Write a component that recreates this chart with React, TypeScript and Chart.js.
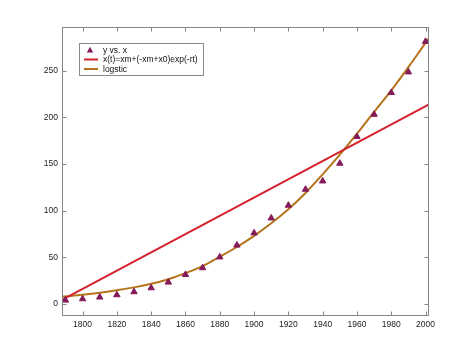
import React, { useEffect, useRef } from "react";
import { Chart, registerables } from "chart.js";

Chart.register(...registerables);

// Census years and observed values (y vs. x)
const years = [1790, 1800, 1810, 1820, 1830, 1840, 1850, 1860, 1870, 1880, 1890, 1900, 1910, 1920, 1930, 1940, 1950, 1960, 1970, 1980, 1990, 2000];
const population = [3.9, 5.3, 7.2, 9.6, 12.9, 17.1, 23.2, 31.4, 38.6, 50.2, 62.9, 76.0, 92.0, 105.7, 122.8, 131.7, 150.7, 179.3, 203.2, 226.5, 248.7, 281.4];

// Straight fitted line endpoints (spanning the axis)
const linearYears = [1788, 2002];
const linearValues = [4.3, 214];

// Logistic curve
const logisticYears = [1788, 1790, 1800, 1810, 1820, 1830, 1840, 1850, 1860, 1870, 1880, 1890, 1900, 1910, 1920, 1930, 1940, 1950, 1960, 1970, 1980, 1990, 2000, 2002];
const logisticValues = [7.7, 8, 9.8, 12, 14.7, 17.7, 21.5, 26.5, 33, 40.5, 50.5, 61, 73, 86.5, 101.5, 119, 139, 160, 182.5, 206, 229, 254, 280, 285];

const xTicks = [1800, 1820, 1840, 1860, 1880, 1900, 1920, 1940, 1960, 1980, 2000];
const yTicks = [0, 50, 100, 150, 200, 250];

const seriesLabels = ["y vs. x", "x(t)=xm+(-xm+x0)exp(-rt)", "logstic"];

const FONT = "'Liberation Sans', Arial, Helvetica, sans-serif";
const AXIS_COLOR = "#858585";
const MARKER_COLOR = "#841a5a";
const RED = "#d4222c";
const BROWN = "#b5731c";

const framePlugin = {
  id: "matlabFrame",
  afterDraw(chart: any) {
    const { ctx, chartArea, scales } = chart;
    const { left, right, top, bottom } = chartArea;
    const xs = scales.x;
    const ys = scales.y;
    ctx.save();
    ctx.strokeStyle = AXIS_COLOR;
    ctx.lineWidth = 1;
    const L = Math.round(left) + 0.5;
    const R = Math.round(right) - 0.5;
    const T = Math.round(top) + 0.5;
    const B = Math.round(bottom) - 0.5;
    ctx.strokeRect(L, T, R - L, B - T);
    const tl = 4;
    ctx.beginPath();
    xTicks.forEach((v) => {
      const px = Math.round(xs.getPixelForValue(v)) + 0.5;
      ctx.moveTo(px, B);
      ctx.lineTo(px, B - tl);
      ctx.moveTo(px, T);
      ctx.lineTo(px, T + tl);
    });
    yTicks.forEach((v) => {
      const py = Math.round(ys.getPixelForValue(v)) + 0.5;
      ctx.moveTo(L, py);
      ctx.lineTo(L + tl, py);
      ctx.moveTo(R, py);
      ctx.lineTo(R - tl, py);
    });
    ctx.stroke();

    // Legend
    const bx = 79.5, by = 43.5, bw = 124, bh = 32;
    ctx.fillStyle = "#ffffff";
    ctx.fillRect(bx, by, bw, bh);
    ctx.strokeStyle = "#8a8a8a";
    ctx.strokeRect(bx, by, bw, bh);
    const rows = [50, 59.5, 69];
    ctx.font = `8.5px ${FONT}`;
    ctx.textBaseline = "middle";
    ctx.textAlign = "left";
    ctx.fillStyle = MARKER_COLOR;
    ctx.beginPath();
    const cx = 90, cy = rows[0];
    ctx.moveTo(cx, cy - 3.2);
    ctx.lineTo(cx + 3.2, cy + 2.4);
    ctx.lineTo(cx - 3.2, cy + 2.4);
    ctx.closePath();
    ctx.fill();
    ctx.lineWidth = 2;
    ctx.strokeStyle = RED;
    ctx.beginPath();
    ctx.moveTo(84, rows[1]);
    ctx.lineTo(98, rows[1]);
    ctx.stroke();
    ctx.strokeStyle = BROWN;
    ctx.beginPath();
    ctx.moveTo(84, rows[2]);
    ctx.lineTo(98, rows[2]);
    ctx.stroke();
    ctx.fillStyle = "#111111";
    seriesLabels.forEach((t, i) => ctx.fillText(t, 103, rows[i] + 0.5));
    ctx.restore();
  },
};

export default function App() {
  const ref = useRef<HTMLCanvasElement | null>(null);
  useEffect(() => {
    document.body.style.margin = "0";
    const canvas = ref.current;
    if (!canvas) return;
    const chart = new Chart(canvas, {
      type: "line",
      data: {
        datasets: [
          {
            label: seriesLabels[0],
            data: years.map((x, i) => ({ x, y: population[i] })),
            showLine: false,
            pointStyle: "triangle",
            pointRadius: 3.7,
            pointBackgroundColor: MARKER_COLOR,
            pointBorderColor: MARKER_COLOR,
            pointBorderWidth: 1,
            borderColor: MARKER_COLOR,
            backgroundColor: MARKER_COLOR,
          },
          {
            label: seriesLabels[1],
            data: linearYears.map((x, i) => ({ x, y: linearValues[i] })),
            borderColor: RED,
            borderWidth: 2,
            pointRadius: 0,
            fill: false,
          },
          {
            label: seriesLabels[2],
            data: logisticYears.map((x, i) => ({ x, y: logisticValues[i] })),
            borderColor: BROWN,
            borderWidth: 2,
            pointRadius: 0,
            cubicInterpolationMode: "monotone",
            fill: false,
          },
        ],
      },
      options: {
        responsive: false,
        animation: false,
        layout: { padding: { left: 0, top: 27, right: 45, bottom: 0 } },
        plugins: {
          legend: { display: false },
          tooltip: { enabled: false },
        },
        scales: {
          x: {
            type: "linear",
            min: 1788,
            max: 2002,
            afterBuildTicks: (scale: any) => {
              scale.ticks = xTicks.map((v) => ({ value: v }));
            },
            afterFit: (scale: any) => {
              scale.height = 39;
            },
            grid: { display: true, drawOnChartArea: false, drawTicks: false },
            border: { display: false },
            ticks: {
              padding: 4,
              color: "#222222",
              font: { family: FONT, size: 8.5 },
              callback: (v: any) => String(v),
              maxRotation: 0,
              autoSkip: false,
            },
          },
          y: {
            type: "linear",
            min: -13,
            max: 297,
            afterBuildTicks: (scale: any) => {
              scale.ticks = yTicks.map((v) => ({ value: v }));
            },
            afterFit: (scale: any) => {
              scale.width = 62;
            },
            grid: { display: true, drawOnChartArea: false, drawTicks: false },
            border: { display: false },
            ticks: {
              padding: 4,
              color: "#222222",
              font: { family: FONT, size: 8.5 },
              callback: (v: any) => String(v),
              autoSkip: false,
            },
          },
        },
      },
      plugins: [framePlugin],
    });
    return () => chart.destroy();
  }, []);
  return (
    <div style={{ position: "fixed", left: 0, top: 0, width: 474, height: 355, background: "#ffffff" }}>
      <canvas ref={ref} width={474} height={355} style={{ display: "block" }} />
    </div>
  );
}
